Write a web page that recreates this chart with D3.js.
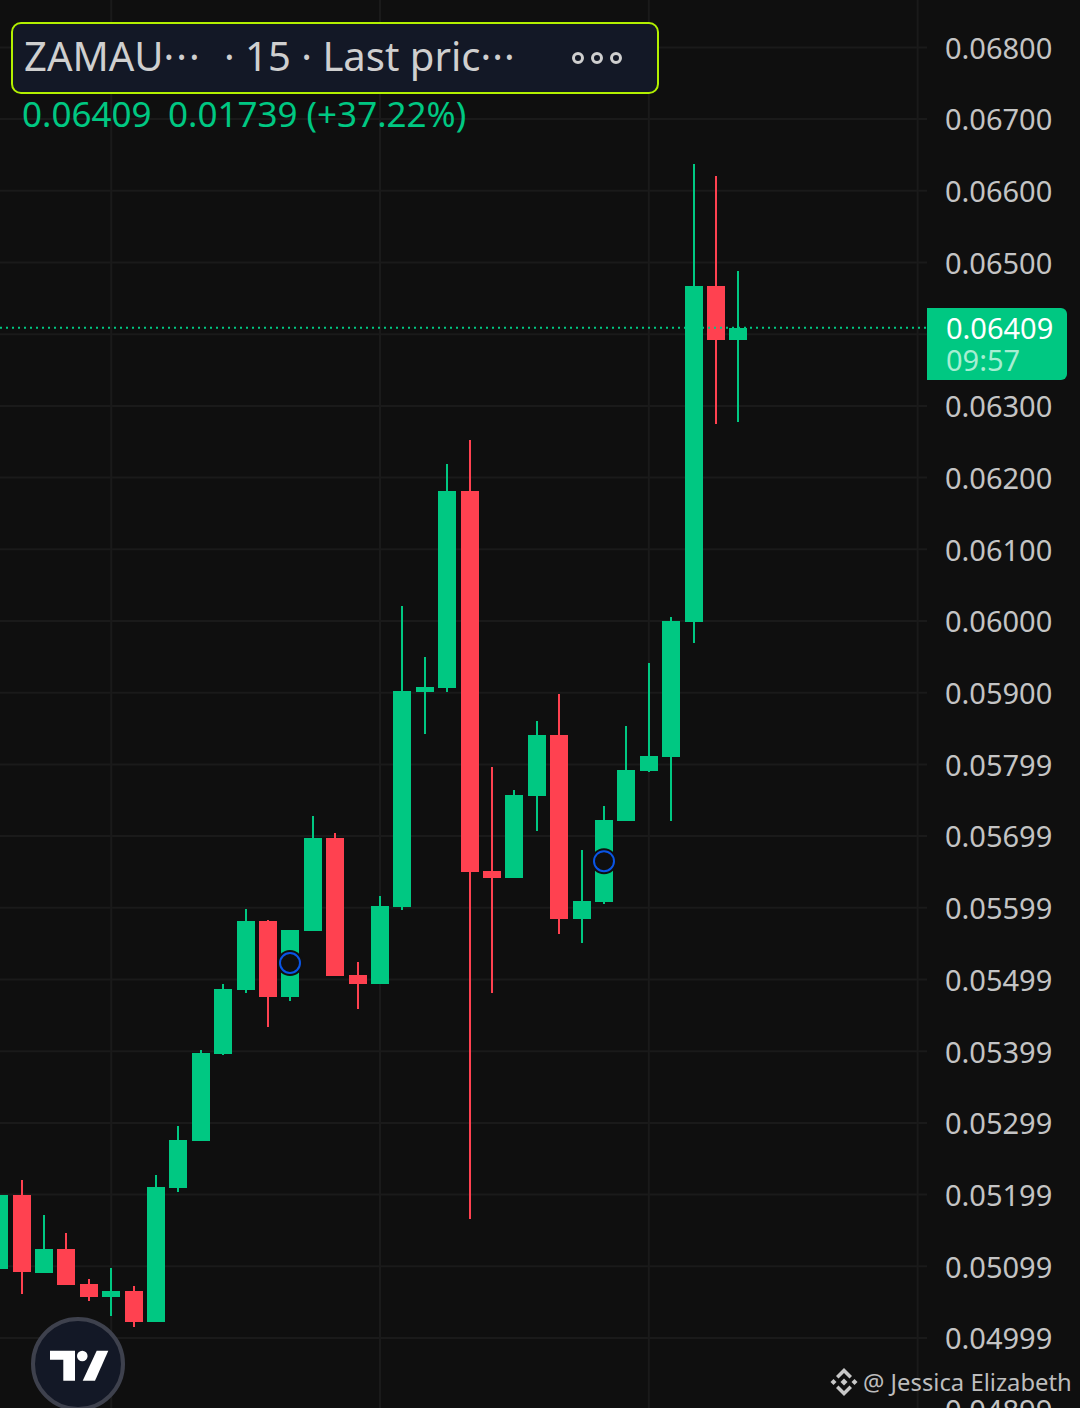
<!DOCTYPE html>
<html>
<head>
<meta charset="utf-8">
<script src="https://cdn.jsdelivr.net/npm/d3@7"></script>
<style>
    html, body { margin: 0; padding: 0; background: #0f0f0f; overflow: hidden; }
    svg { display: block; font-family: "Noto Sans", sans-serif; }
</style>
</head>
<body>
<svg width="1080" height="1408"></svg>
<script>
'use strict';

// candles, left to right
var opens = [0.05096, 0.05199, 0.05091, 0.05124, 0.05075, 0.05057, 0.05066, 0.05022, 0.05209, 0.05275, 0.05396, 0.05485,
    0.05582, 0.05476, 0.05568, 0.05697, 0.05506, 0.05494, 0.05601, 0.05901, 0.05907, 0.06181, 0.05651, 0.05642,
    0.05756, 0.05841, 0.05584, 0.05608, 0.05721, 0.05791, 0.05810, 0.05999, 0.06467, 0.06392];
var highs = [0.05199, 0.05220, 0.05172, 0.05146, 0.05082, 0.05098, 0.05073, 0.05227, 0.05296, 0.05402, 0.05494, 0.05598,
    0.05583, 0.05569, 0.05728, 0.05704, 0.05524, 0.05616, 0.06021, 0.05950, 0.06219, 0.06252, 0.05796, 0.05764,
    0.05861, 0.05898, 0.05681, 0.05742, 0.05854, 0.05941, 0.06006, 0.06637, 0.06621, 0.06488];
var lows = [0.05096, 0.05061, 0.05091, 0.05074, 0.05052, 0.05031, 0.05015, 0.05022, 0.05204, 0.05275, 0.05395, 0.05481,
    0.05434, 0.05470, 0.05568, 0.05505, 0.05459, 0.05494, 0.05597, 0.05842, 0.05901, 0.05166, 0.05481, 0.05642,
    0.05707, 0.05563, 0.05551, 0.05605, 0.05721, 0.05789, 0.05721, 0.05969, 0.06275, 0.06278];
var closes = [0.05199, 0.05092, 0.05124, 0.05074, 0.05057, 0.05066, 0.05022, 0.05211, 0.05276, 0.05397, 0.05487, 0.05582,
    0.05476, 0.05569, 0.05697, 0.05505, 0.05494, 0.05603, 0.05902, 0.05908, 0.06181, 0.05650, 0.05642, 0.05757,
    0.05841, 0.05584, 0.05610, 0.05722, 0.05792, 0.05812, 0.06000, 0.06467, 0.06392, 0.06409];

// blue event dots sitting on two candles
var markerIndexes = [13, 27];
var markerPrices = [0.05523, 0.05665];

// price axis, the chart prints odd labels below 0.059
var priceTicks = [0.068, 0.067, 0.066, 0.065, 0.064, 0.063, 0.062, 0.061, 0.060, 0.059, 0.058, 0.057, 0.056, 0.055, 0.054, 0.053, 0.052, 0.051, 0.050, 0.049];
var priceLabels = ['0.06800', '0.06700', '0.06600', '0.06500', '', '0.06300', '0.06200', '0.06100', '0.06000', '0.05900',
    '0.05799', '0.05699', '0.05599', '0.05499', '0.05399', '0.05299', '0.05199', '0.05099', '0.04999', '0.04899'];
var timeGridIndexes = [5, 17, 29, 41];

var lastPrice = 0.06409;
var lastPriceText = '0.06409';
var changeText = '0.01739 (+37.22%)';
var countdownText = '09:57';

var upColor = '#00c882';
var downColor = '#ff4150';
var gridColor = '#1a1a1a';
var axisTextColor = '#c4c4c4';

var width = 1080;
var height = 1408;
var plotRight = 927;
var bodyWidth = 18;

var svg = d3.select('svg');

var x = d3.scaleLinear().domain([0, 33]).range([-0.8, 738.4]);
var y = d3.scaleLinear().domain([0.05, 0.06]).range([1338, 621]);

svg.append('rect').attr('width', width).attr('height', height).attr('fill', '#0f0f0f');

// grid
var grid = svg.append('g').attr('stroke', gridColor).attr('stroke-width', 2);
grid.selectAll('line.h')
    .data(priceTicks)
    .enter()
        .append('line')
        .attr('class', 'h')
        .attr('x1', 0)
        .attr('x2', plotRight)
        .attr('y1', function (d) { return y(d); })
        .attr('y2', function (d) { return y(d); });
grid.selectAll('line.v')
    .data(timeGridIndexes)
    .enter()
        .append('line')
        .attr('class', 'v')
        .attr('x1', function (d) { return x(d); })
        .attr('x2', function (d) { return x(d); })
        .attr('y1', 0)
        .attr('y2', height);

// candles
var candles = svg.append('g').attr('shape-rendering', 'crispEdges')
    .selectAll('g')
    .data(d3.range(opens.length))
    .enter()
        .append('g')
        .attr('fill', function (i) { return closes[i] >= opens[i] ? upColor : downColor; });
candles.append('rect')
    .attr('x', function (i) { return Math.round(x(i)) - 1; })
    .attr('width', 2)
    .attr('y', function (i) { return y(highs[i]); })
    .attr('height', function (i) { return y(lows[i]) - y(highs[i]); });
candles.append('rect')
    .attr('x', function (i) { return Math.round(x(i)) - bodyWidth / 2; })
    .attr('width', bodyWidth)
    .attr('y', function (i) { return y(Math.max(opens[i], closes[i])); })
    .attr('height', function (i) { return Math.abs(y(opens[i]) - y(closes[i])); });

// event markers
var markers = svg.append('g').selectAll('g')
    .data(markerIndexes)
    .enter()
        .append('g')
        .attr('transform', function (d, i) { return 'translate(' + Math.round(x(d)) + ',' + y(markerPrices[i]) + ')'; });
markers.append('circle').attr('r', 13).attr('fill', '#0f0f0f');
markers.append('circle').attr('r', 10).attr('fill', '#0f0f0f').attr('stroke', '#0a55e6').attr('stroke-width', 2);

// last price dotted line
svg.append('line')
    .attr('x1', 0)
    .attr('x2', plotRight)
    .attr('y1', y(lastPrice))
    .attr('y2', y(lastPrice))
    .attr('stroke', upColor)
    .attr('stroke-width', 2)
    .attr('stroke-dasharray', '2 4');

// price axis
var axis = svg.append('g')
    .attr('transform', 'translate(945,1.6)')
    .call(d3.axisRight(y)
        .tickValues(priceTicks)
        .tickSize(0)
        .tickPadding(0)
        .tickFormat(function (d, i) { return priceLabels[i]; }));
axis.select('.domain').remove();
axis.selectAll('text')
    .attr('fill', axisTextColor)
    .attr('font-size', 29)
    .attr('font-family', '"Noto Sans", sans-serif');

// last price badge
svg.append('path')
    .attr('d', 'M927,308H1061a6,6 0 0 1 6,6V374a6,6 0 0 1 -6,6H927Z')
    .attr('fill', upColor);
svg.append('text').text(lastPriceText).attr('x', 946).attr('y', 339).attr('font-size', 29).attr('fill', '#ffffff');
svg.append('text').text(countdownText).attr('x', 946).attr('y', 371).attr('font-size', 29).attr('fill', '#a6eed2');

// legend box
svg.append('rect')
    .attr('x', 12)
    .attr('y', 23)
    .attr('width', 646)
    .attr('height', 70)
    .attr('rx', 9)
    .attr('fill', '#131826')
    .attr('stroke', '#b2f000')
    .attr('stroke-width', 2);
var titleText = svg.append('g').attr('fill', '#cfcfcf').attr('font-size', 40);
var symbolTitle = titleText.append('text').attr('x', 24).attr('y', 71);
symbolTitle.append('tspan').text('ZAMAU');
symbolTitle.append('tspan').text('···').attr('letter-spacing', 2);
var intervalTitle = titleText.append('text').attr('x', 224).attr('y', 71);
intervalTitle.append('tspan').text('· 15 · Last pric');
intervalTitle.append('tspan').text('···').attr('letter-spacing', 1);
svg.append('g').selectAll('circle')
    .data([578, 597, 616])
    .enter()
        .append('circle')
        .attr('cx', function (d) { return d; })
        .attr('cy', 58)
        .attr('r', 4.5)
        .attr('fill', 'none')
        .attr('stroke', '#cfcfcf')
        .attr('stroke-width', 3);
svg.append('text').text(lastPriceText).attr('x', 22).attr('y', 127).attr('font-size', 35).attr('fill', upColor);
svg.append('text').text(changeText).attr('x', 168).attr('y', 127).attr('font-size', 35).attr('fill', upColor);

// TradingView badge
var logo = svg.append('g').attr('transform', 'translate(78,1364)');
logo.append('circle').attr('r', 45).attr('fill', '#131826').attr('stroke', '#3e414d').attr('stroke-width', 4);
logo.append('path').attr('fill', '#ffffff').attr('d', 'M-28,-13.3H-3V16.7H-14.7V-4.3H-28Z');
logo.append('circle').attr('cx', 4.3).attr('cy', -8).attr('r', 5.3).attr('fill', '#ffffff');
logo.append('path').attr('fill', '#ffffff').attr('d', 'M18.7,-13.3H30.3L17,16.7H4.7Z');

// watermark
var mark = svg.append('g').attr('transform', 'translate(844,1382)').attr('fill', '#c8c8c8');
mark.append('path').attr('d', 'M0,-14L8,-6L5.5,-3.5L0,-9L-5.5,-3.5L-8,-6Z');
mark.append('path').attr('d', 'M0,14L8,6L5.5,3.5L0,9L-5.5,3.5L-8,6Z');
mark.append('path').attr('d', 'M0,-3.5L3.5,0L0,3.5L-3.5,0Z');
mark.append('path').attr('d', 'M-10.5,-3L-7.5,0L-10.5,3L-13.5,0Z');
mark.append('path').attr('d', 'M10.5,-3L13.5,0L10.5,3L7.5,0Z');
svg.append('text').text('@ Jessica Elizabeth').attr('x', 863).attr('y', 1391).attr('font-size', 23.8).attr('fill', '#bdbdbd');
</script>
</body>
</html>
